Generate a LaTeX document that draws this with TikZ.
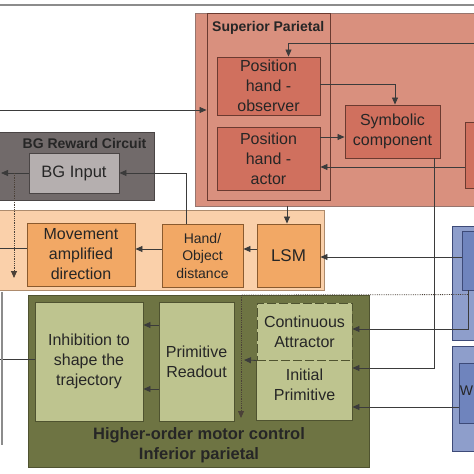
\documentclass[tikz,border=0pt]{standalone}
\usepackage{fontspec}
\setmainfont{Liberation Sans}
\usetikzlibrary{arrows.meta}
\definecolor{spOut}{HTML}{D9907E}
\definecolor{spIn}{HTML}{D0705E}
\definecolor{spLine}{HTML}{6B3A30}
\definecolor{bgOut}{HTML}{716A6A}
\definecolor{bgIn}{HTML}{B5AFAF}
\definecolor{bgLine}{HTML}{4A4545}
\definecolor{orOut}{HTML}{FAD0AA}
\definecolor{orIn}{HTML}{F2A865}
\definecolor{orLine}{HTML}{8A5A2E}
\definecolor{grOut}{HTML}{6E7443}
\definecolor{grIn}{HTML}{BEC48F}
\definecolor{grLine}{HTML}{4F5330}
\definecolor{blOut}{HTML}{8E9ECB}
\definecolor{blIn}{HTML}{6F84BD}
\definecolor{blLine}{HTML}{3D4A78}
\definecolor{linec}{HTML}{3B3B3B}
\definecolor{topc}{HTML}{8C8C8C}
\begin{document}
\begin{tikzpicture}[x=1pt,y=-1pt,
  base/.style={rectangle,inner sep=0pt,align=center,line width=0.9pt,
    font=\fontsize{16}{20}\selectfont,text=black!85},
  spouter/.style={base,fill=spOut,draw=spLine!70},
  spbox/.style={base,fill=spIn,draw=spLine},
  bgouter/.style={base,fill=bgOut,draw=bgLine},
  bgbox/.style={base,fill=bgIn,draw=bgLine},
  orouter/.style={base,fill=orOut,draw=orLine!70},
  orbox/.style={base,fill=orIn,draw=orLine},
  grouter/.style={base,fill=grOut,draw=grLine},
  grbox/.style={base,fill=grIn,draw=grLine},
  blouter/.style={base,fill=blOut,draw=blLine},
  blbox/.style={base,fill=blIn,draw=blLine},
  arr/.style={draw=linec,line width=0.8pt,-{Triangle[length=7pt,width=6pt]}},
  plain/.style={draw=linec,line width=0.8pt},
  dotarr/.style={draw=linec!80!orLine,line width=0.8pt,densely dotted,-{Triangle[length=7pt,width=6pt]}},
  dotline/.style={draw=linec!80!orLine,line width=0.8pt,densely dotted},
  titlefont/.style={font=\bfseries\fontsize{14}{17}\selectfont,text=black!85,inner sep=0pt},
]
\useasboundingbox (0,0) rectangle (474,474);
\clip (0,0) rectangle (474,474);
\fill[white] (0,0) rectangle (474,474);

% top line
\coordinate (tl) at (0,5);
\coordinate (tr) at (474,5);
\draw[draw=topc,line width=1.5pt] (tl) -- (tr);

% Superior Parietal
\node[spouter,minimum width=295,minimum height=193] (spOuter) at (342.5,109.5) {};
\node[base,draw=spLine,minimum width=123,minimum height=187] (spFrame) at (268.5,106.5) {};
\node[titlefont,anchor=west] (spLabel) at (212,28) {Superior Parietal};
\node[spbox,minimum width=103,minimum height=58] (obs) at (268.5,86) {Position\\hand -\\observer};
\node[spbox,minimum width=103,minimum height=63] (act) at (268.5,158.5) {Position\\hand -\\actor};
\node[spbox,minimum width=95,minimum height=53] (sym) at (392.5,131.5) {Symbolic\\component};
\node[spbox,minimum width=25,minimum height=66] (rbox) at (477.5,155) {};

% BG Reward Circuit
\node[bgouter,minimum width=164,minimum height=68] (bgOuter) at (72,166) {};
\node[titlefont] (bgLabel) at (84.5,143) {BG Reward Circuit};
\node[bgbox,minimum width=90,minimum height=40,font=\fontsize{16.5}{20}\selectfont] (bgInput) at (74,173) {BG Input};

% orange band
\node[orouter,minimum width=334,minimum height=80] (orOuter) at (157,250) {};
\node[orbox,minimum width=108,minimum height=63] (mov) at (81,254.5) {Movement\\amplified\\direction};
\node[orbox,minimum width=81,minimum height=63,font=\fontsize{14}{17.5}\selectfont] (hod) at (202.5,255.5) {Hand/\\Object\\distance};
\node[orbox,minimum width=63,minimum height=63,font=\fontsize{17}{20}\selectfont] (lsm) at (288.5,255.5) {LSM};

% green region
\node[grouter,minimum width=341,minimum height=172] (grOuter) at (198.5,381) {};
\node[grbox,minimum width=108,minimum height=119] (inh) at (89,361.5) {Inhibition to\\shape the\\trajectory};
\node[grbox,minimum width=75,minimum height=119] (pr) at (196.5,361.5) {Primitive\\Readout};
\node[base,fill=grIn,minimum width=95,minimum height=60] (ip) at (304.5,390) {};
\draw[draw=grLine,line width=0.9pt] (ip.north west) -- (ip.south west) -- (ip.south east) -- (ip.north east);
\node[base] (ipText) at (304.5,385) {Initial\\Primitive};
\node[grbox,minimum width=95,minimum height=57,dash pattern=on 9pt off 3pt] (ca) at (304.5,331.5) {Continuous\\Attractor};
\node[font=\bfseries\fontsize{16.5}{20}\selectfont,text=black!85,align=center,inner sep=0pt] (grLabel) at (199,445) {Higher-order motor control\\Inferior parietal};

% blue boxes
\node[blouter,minimum width=38,minimum height=114] (bl1Outer) at (471,283) {};
\node[blbox,minimum width=28,minimum height=59] (bl1In) at (476,260.5) {};
\node[blouter,minimum width=38,minimum height=105] (bl2Outer) at (471,398.5) {};
\node[blbox,minimum width=31,minimum height=60] (bl2In) at (474.5,393) {};
\node[base,anchor=east,font=\fontsize{14}{17}\selectfont] (bl2Text) at (473.5,391) {W};

% connectors
\coordinate (inL) at (0,110);
\draw[arr] (inL) -- (inL -| spFrame.west);
\coordinate (rIn) at (480,43);
\coordinate (obsIn) at ([xshift=20pt]obs.north);
\draw[arr] (rIn) -| (obsIn);
\coordinate (d0) at ([yshift=2pt]obs.east);
\coordinate (d1) at ([xshift=2.5pt]sym.north);
\draw[arr] (d0) -| (d1);
\coordinate (e1) at ([yshift=21.5pt]act.east);
\draw[arr] (e1) -- (e1 -| sym.west);
\coordinate (f1) at ([yshift=-12pt]rbox.west);
\draw[arr] (f1) -- (f1 -| act.east);
\coordinate (g1) at ([xshift=41.5pt]sym.south);
\coordinate (g2) at ([yshift=22pt]ip.east);
\draw[arr] (g1) |- (g2);
\coordinate (h1) at ([xshift=-16.5pt]hod.north);
\draw[arr] (h1) |- (bgInput.east);
\coordinate (bgL) at (1,173);
\draw[arr] (bgInput.west) -- (bgL);
\coordinate (dt1) at (14,173);
\coordinate (dt2) at (14,278);
\draw[dotarr] (dt1) -- (dt2);
\coordinate (mL) at (0,248);
\draw[plain] (mL) -- (mL -| mov.west);
\coordinate (l1) at ([xshift=-1.5pt]lsm.north);
\draw[arr] (l1 |- spOuter.south) -- (l1);
\coordinate (m1) at ([yshift=6.5pt]lsm.west);
\draw[arr] (m1) -- (m1 -| hod.east);
\coordinate (n1) at ([yshift=6.5pt]hod.west);
\draw[arr] (n1) -- (n1 -| mov.east);
\coordinate (o1) at ([yshift=3.5pt]bl1In.west);
\draw[arr] (o1) -- (o1 -| lsm.east);
\coordinate (p1) at ([xshift=-8pt]bl1In.south);
\coordinate (p2) at ([yshift=2.5pt]ca.east);
\draw[arr] (p1) |- (p2);
\coordinate (q1) at (p1 |- grOuter.north);
\coordinate (q2) at (241,295);
\coordinate (q3) at (241,418);
\draw[dotline] (q1) -- (q2);
\draw[dotarr] (q2) -- (q3);
\coordinate (r2) at (244,360);
\draw[arr] (ca.south west) -- (r2);
\coordinate (s1) at ([yshift=36.5pt]pr.west);
\draw[arr] (s1) -- (s1 -| inh.east);
\coordinate (s2) at ([yshift=-27.5pt]pr.west);
\draw[arr] (s2) -- (s2 -| inh.east);
\coordinate (t1) at ([yshift=-14pt]bl2In.west);
\draw[arr] (t1) -- (t1 -| ip.east);
\coordinate (u1) at (0,359);
\draw[plain] (u1) -- (u1 -| inh.west);
\coordinate (v1) at (2,292);
\coordinate (v2) at (2,445);
\draw[draw=topc,line width=1.5pt] (v1) -- (v2);
\end{tikzpicture}
\end{document}
